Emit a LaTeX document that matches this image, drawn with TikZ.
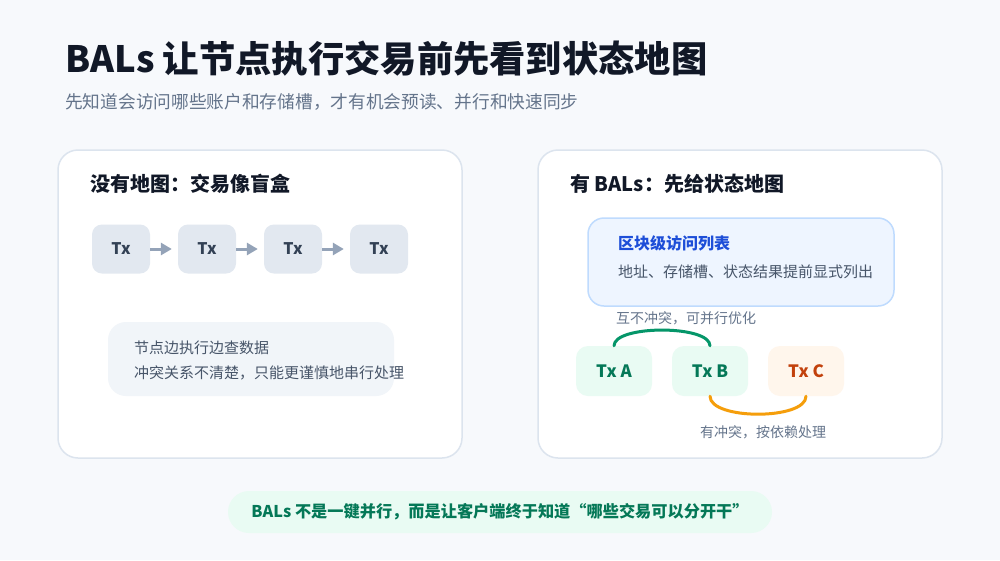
\documentclass[tikz,border=0pt]{standalone}
\usepackage{fontspec}
\setmainfont{Noto Sans CJK SC}
\usetikzlibrary{arrows.meta}
\definecolor{pagebg}{HTML}{F7F9FC}
\definecolor{panelline}{HTML}{DCE4EE}
\definecolor{titleink}{HTML}{111827}
\definecolor{greyink}{HTML}{64748B}
\definecolor{bodyink}{HTML}{475569}
\definecolor{txgray}{HTML}{E2E8F0}
\definecolor{txtext}{HTML}{334155}
\definecolor{arrowgray}{HTML}{94A3B8}
\definecolor{notefill}{HTML}{F1F5F9}
\definecolor{bluefill}{HTML}{EEF5FF}
\definecolor{blueline}{HTML}{BFDBFE}
\definecolor{blueink}{HTML}{1D4ED8}
\definecolor{greenfill}{HTML}{E9FBF3}
\definecolor{greenink}{HTML}{047857}
\definecolor{greenarc}{HTML}{059669}
\definecolor{orangefill}{HTML}{FFF6EC}
\definecolor{orangeink}{HTML}{C2410C}
\definecolor{orangearc}{HTML}{F59E0B}
\newcommand{\fsz}[1]{\fontsize{#1}{#1}\selectfont}
\begin{document}
\begin{tikzpicture}[x=1pt,y=-1pt,line join=round,line cap=round,
	txt/.style={anchor=west,inner sep=0pt},
	panel/.style={draw=panelline,line width=1.5pt,fill=white,rounded corners=20pt,minimum width=404pt,minimum height=308pt},
	txbox/.style={fill=txgray,rounded corners=10pt,minimum width=58pt,minimum height=49pt,font=\fsz{16}\bfseries,text=txtext},
	abox/.style={rounded corners=12pt,minimum width=76pt,minimum height=50pt,font=\fsz{17}\bfseries},
	flow/.style={draw=arrowgray,line width=3pt,line cap=butt,-{Triangle[length=11pt,width=12pt]},shorten >=6pt}]
	% page
	\fill[pagebg] (0,0) rectangle (1000,560);
	\useasboundingbox (0,0) rectangle (1000,560);
	\node[txt,font=\fsz{36.3}\bfseries,text=titleink] (title) at (65,59) {BALs 让节点执行交易前先看到状态地图};
	\node[txt,font=\fsz{17.7},text=greyink] (subtitle) at (65,102) {先知道会访问哪些账户和存储槽，才有机会预读、并行和快速同步};
	% left panel
	\node[panel] (left) at (260,304) {};
	\node[txt,font=\fsz{20}\bfseries,text=titleink] (lefthead) at (90,184) {没有地图：交易像盲盒};
	\foreach \i/\x in {1/121,2/207,3/293,4/379}
		\node[txbox] (tx\i) at (\x,249) {Tx};
	\foreach \a/\b in {1/2,2/3,3/4}
		\draw[flow] (tx\a.east) -- (tx\b.west);
	\node[fill=notefill,rounded corners=18pt,minimum width=286pt,minimum height=74pt] (note) at (251,359) {};
	\node[txt,font=\fsz{15},text=bodyink] (note1) at (134,348) {节点边执行边查数据};
	\node[txt,font=\fsz{15},text=bodyink] (note2) at (134,373) {冲突关系不清楚，只能更谨慎地串行处理};
	% right panel
	\node[panel] (right) at (740,304) {};
	\node[txt,font=\fsz{20}\bfseries,text=titleink] (righthead) at (570,184) {有 BALs：先给状态地图};
	\node[draw=blueline,line width=1.5pt,fill=bluefill,rounded corners=16pt,minimum width=306pt,minimum height=88pt] (bal) at (741,262) {};
	\node[txt,font=\fsz{16}\bfseries,text=blueink] (balhead) at (618,243) {区块级访问列表};
	\node[txt,font=\fsz{15},text=bodyink] (balbody) at (618,272) {地址、存储槽、状态结果提前显式列出};
	\node[txt,font=\fsz{14},text=greyink] (parlabel) at (616,318) {互不冲突，可并行优化};
	\node[abox,fill=greenfill,text=greenink] (txa) at (614,371) {Tx A};
	\node[abox,fill=greenfill,text=greenink] (txb) at (710,371) {Tx B};
	\node[abox,fill=orangefill,text=orangeink] (txc) at (806,371) {Tx C};
	\draw[greenarc,line width=3pt] (txa.north) .. controls +(0,-21) and +(0,-21) .. (txb.north);
	\draw[orangearc,line width=3pt] (txb.south) .. controls +(0,24) and +(0,24) .. (txc.south);
	\node[txt,font=\fsz{14},text=greyink] (deplabel) at (700,432) {有冲突，按依赖处理};
	% bottom note
	\node[fill=greenfill,rounded corners=21pt,minimum width=544pt,minimum height=42pt,font=\fsz{16.2}\bfseries,text=greenink] (pill) at (500,512) {BALs 不是一键并行，而是让客户端终于知道“哪些交易可以分开干”};
\end{tikzpicture}
\end{document}
